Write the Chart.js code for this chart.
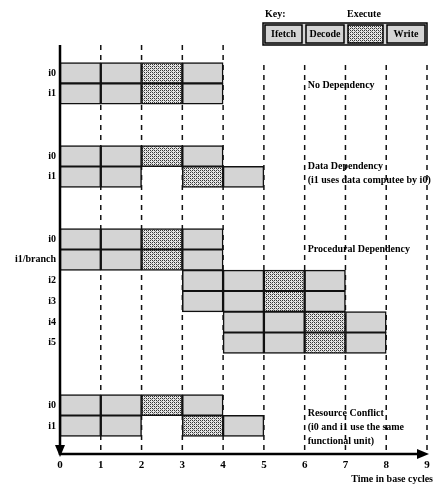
<!DOCTYPE html>
<html><head><meta charset="utf-8">
<script src="https://cdn.jsdelivr.net/npm/chart.js@4/dist/chart.umd.min.js"></script>
<style>html,body{margin:0;padding:0;background:#fff}#w{width:439px;height:487px}</style>
</head><body><div id="w"><canvas id="c"></canvas></div>
<script>
// Row positions (y index) and labels
const rowPos = [0,1,4,5,8,9,10,11,12,13,16,17];
const rowLabels = ['i0','i1','i0','i1','i0','i1/branch','i2','i3','i4','i5','i0','i1'];
// Stage intervals per row [start,end]
const ifetch  = [[0,1],[0,1],[0,1],[0,1],[0,1],[0,1],[3,4],[3,4],[4,5],[4,5],[0,1],[0,1]];
const decode  = [[1,2],[1,2],[1,2],[1,2],[1,2],[1,2],[4,5],[4,5],[5,6],[5,6],[1,2],[1,2]];
const execute = [[2,3],[2,3],[2,3],[3,4],[2,3],[2,3],[5,6],[5,6],[6,7],[6,7],[2,3],[3,4]];
const write   = [[3,4],[3,4],[3,4],[4,5],[3,4],[3,4],[6,7],[6,7],[7,8],[7,8],[3,4],[4,5]];
const xTicks = [0,1,2,3,4,5,6,7,8,9];
const notes = [
  {x:6, row:0.6, lines:['No Dependency']},
  {x:6, row:4.5, lines:['Data Dependency','(i1 uses data computee by i0)']},
  {x:6, row:8.5, lines:['Procedural Dependency']},
  {x:6, row:16.4, lines:['Resource Conflict','(i0 and i1 use the same','functional unit)']}
];
const FONT = 'bold 10px "Liberation Serif", "DejaVu Serif", serif';

function hatch(){
  const p=document.createElement('canvas');p.width=4;p.height=4;
  const g=p.getContext('2d');g.fillStyle='#e6e6e6';g.fillRect(0,0,4,4);
  g.fillStyle='#333';g.fillRect(0,0,1,1);g.fillRect(2,2,1,1);g.fillRect(2,0,1,1);g.fillRect(0,2,1,1);
  g.fillStyle='#888';g.fillRect(1,1,1,1);g.fillRect(3,3,1,1);
  return g.createPattern(p,'repeat');
}
const pat = hatch();
function ds(label, arr, fill){
  return {label, data: arr.map((v,i)=>({x:v,y:rowPos[i]})), backgroundColor:fill,
    borderColor:'#111', borderWidth:1.5, borderSkipped:false, barThickness:21, grouped:false};
}

const deco = {
  id:'deco',
  beforeDatasetsDraw(ch){
    const ctx=ch.ctx, xs=ch.scales.x, a=ch.chartArea;
    ctx.save();ctx.strokeStyle='#111';ctx.lineWidth=1.5;ctx.setLineDash([5,5]);
    for(let t=1;t<=9;t++){const px=xs.getPixelForValue(t);
      ctx.beginPath();ctx.moveTo(px,t<=4?a.top:a.top+20);ctx.lineTo(px,a.bottom);ctx.stroke();}
    ctx.restore();
  },
  afterDraw(ch){
    const ctx=ch.ctx, xs=ch.scales.x, ys=ch.scales.y, a=ch.chartArea;
    ctx.save();
    ctx.strokeStyle='#000';ctx.fillStyle='#000';ctx.lineWidth=2.5;
    const x0=xs.getPixelForValue(0);
    ctx.beginPath();ctx.moveTo(x0,a.top);ctx.lineTo(x0,a.bottom);ctx.stroke();
    ctx.beginPath();ctx.moveTo(x0-5,a.bottom-10);ctx.lineTo(x0+5,a.bottom-10);ctx.lineTo(x0,a.bottom+2);ctx.fill();
    const ay=a.bottom-1;
    ctx.beginPath();ctx.moveTo(x0,ay);ctx.lineTo(a.right-4,ay);ctx.stroke();
    ctx.beginPath();ctx.moveTo(a.right-10,ay-5);ctx.lineTo(a.right-10,ay+5);ctx.lineTo(a.right+2,ay);ctx.fill();
    ctx.font=FONT;ctx.textBaseline='middle';ctx.textAlign='left';
    notes.forEach(n=>{const px=xs.getPixelForValue(n.x)+3;
      n.lines.forEach((l,i)=>ctx.fillText(l,px,ys.getPixelForValue(n.row)+i*14));});
    // key
    ctx.textAlign='left';ctx.fillText('Key:',265,14);ctx.fillText('Execute',347,14);
    ctx.lineWidth=1.5;ctx.fillStyle='#d4d4d4';ctx.fillRect(263,23,164,22);ctx.strokeRect(263,23,164,22);
    const cells=[[263,304,'Ifetch'],[304,346,'Decode'],[346,385,null],[385,427,'Write']];
    cells.forEach(c=>{ctx.fillStyle=c[2]?'#d4d4d4':pat;ctx.fillRect(c[0]+2,25,c[1]-c[0]-4,18);
      ctx.strokeRect(c[0]+2,25,c[1]-c[0]-4,18);
      if(c[2]){ctx.fillStyle='#000';ctx.textAlign='center';ctx.fillText(c[2],(c[0]+c[1])/2,34);}});
    ctx.fillStyle='#000';ctx.textAlign='right';ctx.fillText('Time in base cycles',433,479);
    ctx.restore();
  }
};

new Chart(document.getElementById('c'),{
  type:'bar',
  data:{datasets:[ds('Ifetch',ifetch,'#d4d4d4'),ds('Decode',decode,'#d4d4d4'),ds('Execute',execute,pat),ds('Write',write,'#d4d4d4')]},
  options:{
    indexAxis:'y',responsive:true,maintainAspectRatio:false,animation:false,
    layout:{padding:{top:45,right:12,left:0,bottom:0}},
    plugins:{legend:{display:false},tooltip:{enabled:false}},
    scales:{
      x:{type:'linear',min:0,max:9,grid:{display:false,drawTicks:false},border:{display:false},
        afterBuildTicks(s){s.ticks=xTicks.map(v=>({value:v}));},
        afterFit(s){s.height=32;},
        ticks:{color:'#000',font:{family:'"Liberation Serif", serif',weight:'bold',size:11},padding:4}},
      y:{type:'linear',reverse:true,offset:false,min:-1.35,max:18.4,grid:{display:false,drawTicks:false},border:{display:false},
        afterBuildTicks(s){s.ticks=rowPos.map(v=>({value:v}));},
        afterFit(s){s.width=60;},
        ticks:{color:'#000',font:{family:'"Liberation Serif", serif',weight:'bold',size:10},padding:4,
          callback:(v)=>rowLabels[rowPos.indexOf(v)]}}
    }
  },
  plugins:[deco]
});
</script></body></html>
